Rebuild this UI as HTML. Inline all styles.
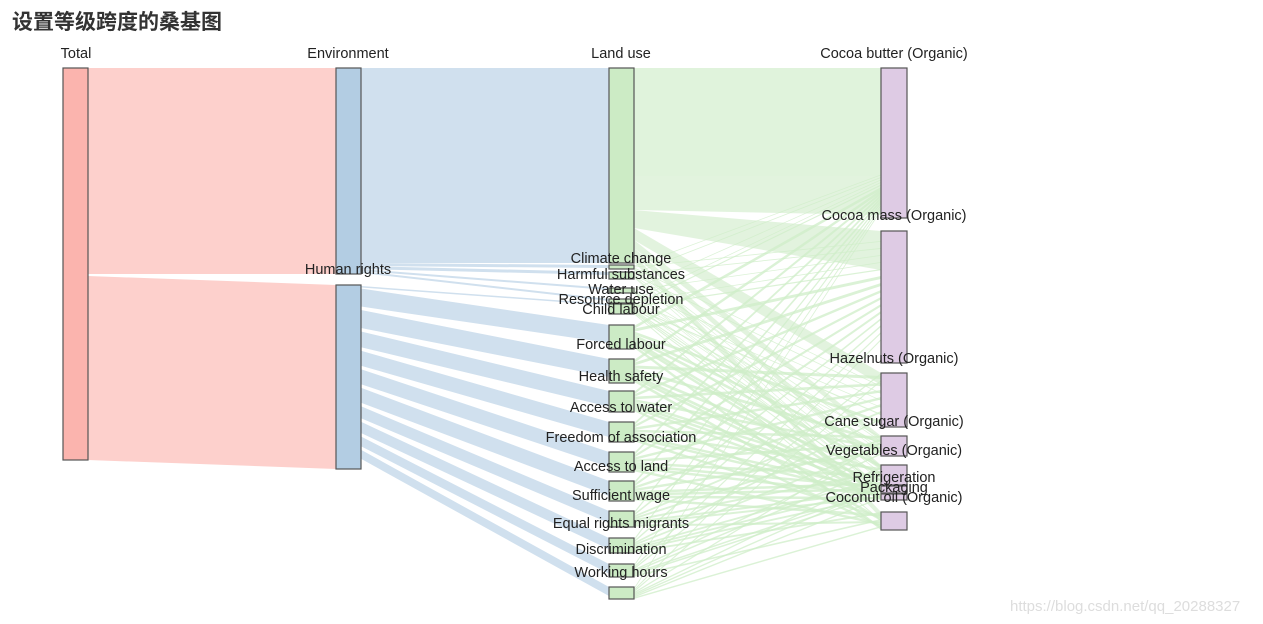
<!DOCTYPE html>
<html><head><meta charset="utf-8"><style>
html,body{margin:0;padding:0;background:#fff;width:1263px;height:624px;overflow:hidden}
svg{position:absolute;left:0;top:0}
text{font-family:"Liberation Sans","DejaVu Sans",sans-serif;font-size:14.5px;fill:#222;text-anchor:middle}
.t{font-family:"Liberation Sans","Noto Sans CJK SC",sans-serif;font-size:21px;font-weight:bold;fill:#333;text-anchor:start}
.wm{font-size:15px;fill:#ddd;text-anchor:start}
</style></head><body>
<svg width="1263" height="624" xmlns="http://www.w3.org/2000/svg">
<g id="links"></g>
<g id="nodes"></g>
<text class="t" x="12" y="29">设置等级跨度的桑基图</text>
<text x="76" y="58">Total</text>
<text x="348" y="58">Environment</text>
<text x="348" y="274">Human rights</text>
<text x="621" y="58">Land use</text>
<text x="621" y="263">Climate change</text>
<text x="621" y="279">Harmful substances</text>
<text x="621" y="294">Water use</text>
<text x="621" y="304">Resource depletion</text>
<text x="621" y="314">Child labour</text>
<text x="621" y="349">Forced labour</text>
<text x="621" y="381">Health safety</text>
<text x="621" y="412">Access to water</text>
<text x="621" y="442">Freedom of association</text>
<text x="621" y="471">Access to land</text>
<text x="621" y="500">Sufficient wage</text>
<text x="621" y="528">Equal rights migrants</text>
<text x="621" y="554">Discrimination</text>
<text x="621" y="577">Working hours</text>
<text x="894" y="58">Cocoa butter (Organic)</text>
<text x="894" y="220">Cocoa mass (Organic)</text>
<text x="894" y="363">Hazelnuts (Organic)</text>
<text x="894" y="426">Cane sugar (Organic)</text>
<text x="894" y="455">Vegetables (Organic)</text>
<text x="894" y="482">Refrigeration</text>
<text x="894" y="492">Packaging</text>
<text x="894" y="502">Coconut oil (Organic)</text>
<text class="wm" x="1010" y="611">https://blog.csdn.net/qq_20288327</text>
</svg>
<script>
var L=document.getElementById('links'),N=document.getElementById('nodes'),ns='http://www.w3.org/2000/svg';
function band(x0,a0,b0,x1,a1,b1,c,op){var p=document.createElementNS(ns,'path');
p.setAttribute('d','M'+x0+','+a0+'L'+x1+','+a1+'L'+x1+','+b1+'L'+x0+','+b0+'Z');
p.setAttribute('fill',c);p.setAttribute('fill-opacity',op||1);L.appendChild(p);}
function node(x,y0,y1,c){var r=document.createElementNS(ns,'rect');r.setAttribute('x',x);r.setAttribute('y',y0);r.setAttribute('width',x==881?26:25);r.setAttribute('height',Math.max(y1-y0,2));r.setAttribute('fill',c);r.setAttribute('stroke','#555');r.setAttribute('stroke-width','1.2');N.appendChild(r);}
var pink='#fdd0cc',blue='#d0e0ee',green='#cfeec8';
band(88,68,274,336,68,274,pink);band(88,276,460,336,285,469,pink);
var c3=[[68,263],[265,269],[272,279],[288,293],[299,303],[304,314],[325,349],[359,383],[391,412],[422,442],[452,472],[481,501],[511,527],[538,553],[564,577],[587,599]];
band(361,68,263,609,68,263,blue);
var es=[[263,266],[266,269],[269,271],[271,273]];
for(var i=1;i<5;i++){band(361,es[i-1][0],es[i-1][1],609,c3[i][0],c3[i][0]+es[i-1][1]-es[i-1][0],blue);}
var hy=286;for(var i=5;i<16;i++){var h=(c3[i][1]-c3[i][0])*0.75;if(i==5)h=1.5;band(361,hy,hy+h,609,c3[i][0],c3[i][0]+h,blue);hy+=h+(i==5?1:3.5);}
var c4=[[68,218],[231,363],[373,427],[436,456],[465,485],[486,493],[494,500],[512,530]];
band(634,68,176,881,68,176,'#e0f3dc');
var lu=[[176,210,176,215],[210,228,231,270],[228,240,373,385],[240,248,436,441],[248,255,465,470],[255,262,512,518]];
lu.forEach(function(s){band(634,s[0],s[1],881,s[2],s[3],'#dff2da',0.9);});
for(var i=1;i<16;i++){var y=c3[i][0]+1,hh=Math.max((c3[i][1]-c3[i][0])/8,0.8);
for(var j=0;j<8;j++){if(i<5&&j>5)continue;var ty=c4[j][0]+((i*7+j*3)%Math.max(c4[j][1]-c4[j][0]-2,1));if(j==0)ty=172+i*2.5;
band(634,y,y+hh,881,ty,ty+hh,green,0.75);y+=hh*0.9;}}
node(63,68,460,'#fbb4ae');node(336,68,274,'#b3cde3');node(336,285,469,'#b3cde3');
c3.forEach(function(n){node(609,n[0],n[1],'#ccebc5');});
c4.forEach(function(n){node(881,n[0],n[1],'#decbe4');});
</script>
</body></html>
